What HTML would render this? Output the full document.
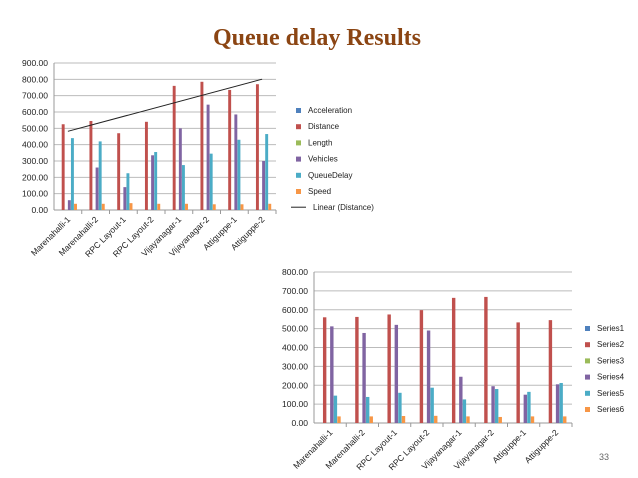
<!DOCTYPE html>
<html><head><meta charset="utf-8"><style>
body{margin:0;background:#fff;width:638px;height:478px;overflow:hidden}
svg{display:block;font-family:"Liberation Sans",sans-serif}
</style></head><body>
<svg id="s" width="638" height="478">
<text x="317" y="45" text-anchor="middle" font-family="Liberation Serif,serif" font-weight="bold" font-size="24" fill="#8B4513">Queue delay Results</text>
<text x="599" y="460" font-size="9" fill="#666">33</text>
</svg>
<script>
const categories=["Marenahalli-1","Marenahalli-2","RPC Layout-1","RPC Layout-2","Vijayanagar-1","Vijayanagar-2","Attiguppe-1","Attiguppe-2"];
const colors=["#4F81BD","#C0504D","#9BBB59","#8064A2","#4BACC6","#F79646"];
const names1=["Acceleration","Distance","Length","Vehicles","QueueDelay","Speed"];
const acc1=[0,0,0,0,0,0,0,0];
const dist1=[525,545,470,540,760,785,735,770];
const len1=[0,0,0,0,0,0,0,0];
const veh1=[60,260,140,335,500,645,585,300];
const qd1=[440,420,225,355,275,345,430,465];
const spd1=[38,38,42,38,38,35,35,38];
const ticks1=[0,100,200,300,400,500,600,700,800,900];
const names2=["Series1","Series2","Series3","Series4","Series5","Series6"];
const s1=[0,0,0,0,0,0,0,0];
const s2=[560,562,575,598,663,668,533,545];
const s3=[0,0,0,0,0,0,0,0];
const s4=[512,477,520,490,245,195,150,205];
const s5=[145,138,160,187,125,180,165,212];
const s6=[35,35,37,38,35,32,35,35];
const ticks2=[0,100,200,300,400,500,600,700,800];
const svg=document.getElementById('s');
const NS="http://www.w3.org/2000/svg";
function mk(t,a,p){const e=document.createElementNS(NS,t);for(const k in a)e.setAttribute(k,a[k]);(p||svg).appendChild(e);return e;}
function chart(o){
  const g=mk('g',{});
  
  
  const ymax=o.ticks[o.ticks.length-1];
  const y=v=>o.y0-(v/ymax)*(o.y0-o.y1);
  const cw=(o.x1-o.x0)/categories.length;
  const xc=i=>o.x0+cw*(i+0.5);
  o.ticks.forEach(t=>{
    const l=mk('line',{x1:o.x0,x2:o.x1,y1:y(t),y2:y(t),stroke:t===0?'#999':'#bbb','stroke-width':1},g);
    
    
    const tx=mk('text',{x:o.x0-6,y:y(t)+3,'text-anchor':'end','font-size':8.5,fill:'#222'},g);
    tx.textContent=t.toFixed(2);
    
    
  });
  const ax=mk('line',{x1:o.x0,x2:o.x0,y1:o.y1,y2:o.y0,stroke:'#999'},g);
  
  
  const bw=cw/9;
  categories.forEach((c,i)=>{
    const tk=mk('line',{x1:o.x0+cw*(i+1),x2:o.x0+cw*(i+1),y1:o.y0,y2:o.y0+4,stroke:'#999'},g);
    
    
    o.series.forEach((s,j)=>{
      const v=s[i];
      const r=mk('rect',{x:xc(i)-3*bw+j*bw*1.0,y:y(v),width:bw*0.95,height:Math.max(0,o.y0-y(v)),fill:colors[j]},g);
      
      
    });
    const tx=mk('text',{x:0,y:0,'text-anchor':'end','font-size':8.5,fill:'#222',transform:`translate(${xc(i)+3},${o.y0+10}) rotate(-45)`},g);
    tx.textContent=c;
    
    
  });
  if(o.trend){
    const d=o.series[1],n=d.length;const mx=(n+1)/2;const my=d.reduce((a,b)=>a+b,0)/n;
    let sxy=0,sxx=0;d.forEach((v,i)=>{sxy+=(i+1-mx)*(v-my);sxx+=(i+1-mx)**2;});
    const b=sxy/sxx,a=my-b*mx;
    const tl=mk('line',{x1:xc(0),y1:y(a+b),x2:xc(n-1),y2:y(a+b*n),stroke:'#222','stroke-width':1},g);
    
    
  }
  const ln=o.names.concat(o.trend?['Linear (Distance)']:[]);
  ln.forEach((nm,j)=>{
    const ly=o.ly+j*16.2;
    if(j<6){const r=mk('rect',{x:o.lx,y:ly-5,width:5,height:5,fill:colors[j]},g);
      
      }
    else{const l=mk('line',{x1:o.lx-5,x2:o.lx+10,y1:ly-3,y2:ly-3,stroke:'#222'},g);
      
      }
    const t=mk('text',{x:o.lx+(j<6?12:17),y:ly,'font-size':8,fill:'#222'},g);
    t.textContent=nm;
    
    
  });
}
chart({name:'chart-top',x0:54,x1:276,y0:210,y1:63,ticks:ticks1,series:[acc1,dist1,len1,veh1,qd1,spd1],names:names1,trend:true,lx:296,ly:113});
chart({name:'chart-bottom',x0:314,x1:572,y0:423,y1:272,ticks:ticks2,series:[s1,s2,s3,s4,s5,s6],names:names2,trend:false,lx:585,ly:331});
</script>
</body></html>
